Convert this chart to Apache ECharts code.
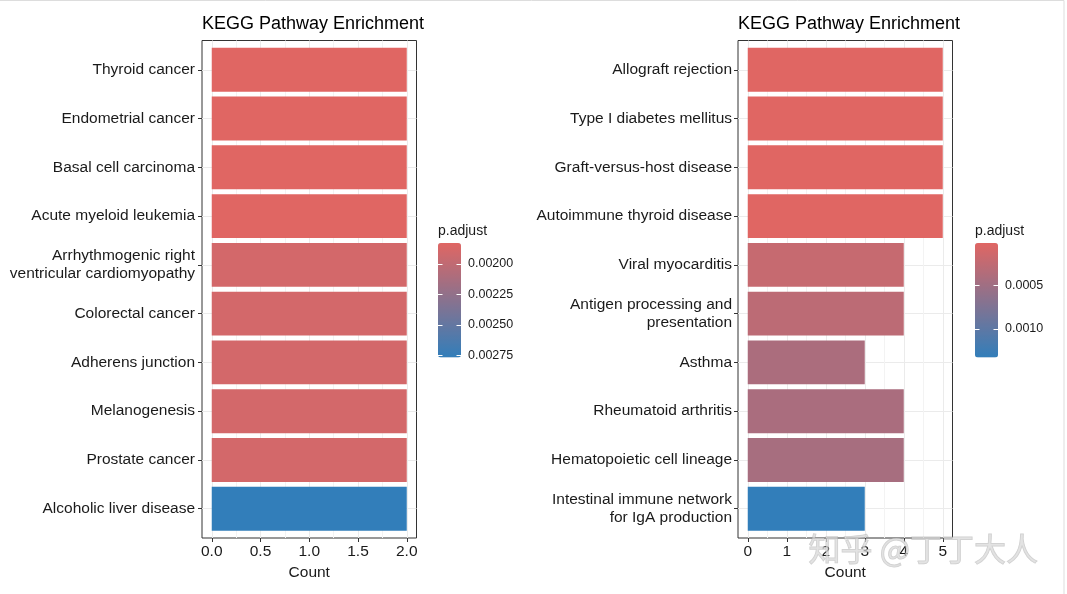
<!DOCTYPE html>
<html>
<head>
<meta charset="utf-8">
<script src="https://cdn.jsdelivr.net/npm/echarts@6/dist/echarts.min.js"></script>
<style>
  html, body { margin: 0; background: #fff; }
  #chart { width: 1067px; height: 594px; }
</style>
</head>
<body>
<div id="chart"></div>
<script>
// left panel
const leftPathways = [
  'Thyroid cancer', 'Endometrial cancer', 'Basal cell carcinoma', 'Acute myeloid leukemia',
  'Arrhythmogenic right\nventricular cardiomyopathy', 'Colorectal cancer', 'Adherens junction',
  'Melanogenesis', 'Prostate cancer', 'Alcoholic liver disease'
]
const leftCounts = [2, 2, 2, 2, 2, 2, 2, 2, 2, 2]
const leftPadj = [0.001828, 0.001828, 0.001828, 0.001828, 0.00190, 0.00190, 0.00190, 0.00190, 0.00190, 0.002766]
const leftCountTicks = [0, 0.5, 1, 1.5, 2]
const leftCountMinor = [0.25, 0.75, 1.25, 1.75]
const leftLegendTicks = [0.002, 0.00225, 0.0025, 0.00275]

// right panel
const rightPathways = [
  'Allograft rejection', 'Type I diabetes mellitus', 'Graft-versus-host disease', 'Autoimmune thyroid disease',
  'Viral myocarditis', 'Antigen processing and\npresentation', 'Asthma', 'Rheumatoid arthritis',
  'Hematopoietic cell lineage', 'Intestinal immune network\nfor IgA production'
]
const rightCounts = [5, 5, 5, 5, 4, 4, 3, 4, 4, 3]
const rightPadj = [0.000009, 0.000009, 0.000009, 0.000009, 0.00021, 0.00028, 0.00041, 0.00042, 0.00044, 0.00133]
const rightCountTicks = [0, 1, 2, 3, 4, 5]
const rightCountMinor = [0.5, 1.5, 2.5, 3.5, 4.5]
const rightLegendTicks = [0.0005, 0.001]

const LOW = '#E06663'
const HIGH = '#327EBA'
const FONT = '"Liberation Sans", Arial, sans-serif'
const INK = '#1a1a1a'

const option = {
  animation: false,
  backgroundColor: '#fff',
  textStyle: { fontFamily: FONT },
  title: [], grid: [], xAxis: [], yAxis: [], series: [], visualMap: [],
  graphic: []
}

function addPanel (p) {
  const g = option.grid.length
  const x = option.xAxis.length
  const y = option.yAxis.length
  const s = option.series.length
  const top = 40.5
  const height = 497.5
  const unit = height / 10.2
  const xMin = -0.05 * p.xMax
  const xMax = 1.05 * p.xMax
  const pMin = Math.min(...p.padj)
  const pMax = Math.max(...p.padj)
  const rows = p.names.map((n, i) => i)

  option.title.push(
    { text: 'KEGG Pathway Enrichment', left: p.left, top: 15, padding: 0,
      textStyle: { fontSize: 18, fontWeight: 'normal', color: '#000', fontFamily: FONT } },
    { text: 'p.adjust', left: p.legendLeft, top: 224, padding: 0,
      textStyle: { fontSize: 14, fontWeight: 'normal', color: INK, fontFamily: FONT } }
  )

  option.grid.push(
    // panel frame
    { left: p.left, top: top, width: 214.5, height: height, show: true,
      borderColor: '#333', borderWidth: 1, backgroundColor: 'transparent', containLabel: false },
    // bars
    { left: p.left, top: top + 0.1 * unit, width: 214.5, height: 10 * unit, containLabel: false },
    // colour bar
    { left: p.legendLeft, top: 243, width: 23, height: 114.5, containLabel: false }
  )

  option.xAxis.push(
    { type: 'value', gridIndex: g, min: xMin, max: xMax, position: 'bottom',
      name: 'Count', nameLocation: 'middle', nameGap: 26,
      nameTextStyle: { fontSize: 15.5, color: INK, fontFamily: FONT },
      axisLine: { show: false, onZero: false },
      axisTick: { show: true, length: 4, customValues: p.ticks, lineStyle: { color: '#333' } },
      axisLabel: { customValues: p.ticks, margin: 6, fontSize: 15.5, color: INK, fontFamily: FONT,
        formatter: v => p.xMax === 2 ? v.toFixed(1) : String(v) },
      splitLine: { show: true, customValues: p.ticks, lineStyle: { color: '#EBEBEB', width: 1 } } },
    { type: 'value', gridIndex: g, min: xMin, max: xMax, position: 'top',
      axisLine: { show: false, onZero: false }, axisLabel: { show: false },
      axisTick: { show: false, customValues: p.minor },
      splitLine: { show: true, customValues: p.minor, lineStyle: { color: '#F3F3F3', width: 1 } } },
    { type: 'value', gridIndex: g + 1, min: xMin, max: xMax, show: false },
    { type: 'value', gridIndex: g + 2, min: 0, max: 1, show: false }
  )

  option.yAxis.push(
    { type: 'value', gridIndex: g, inverse: true, min: -0.6, max: 9.6, position: 'left',
      axisLine: { show: false, onZero: false },
      axisTick: { show: true, length: 4, customValues: rows, lineStyle: { color: '#333' } },
      axisLabel: { customValues: rows, margin: p.labelMargin, fontSize: 15.5, padding: [4, 0, 0, 0],
        lineHeight: 18, color: INK, fontFamily: FONT, formatter: v => p.names[Math.round(v)] },
      splitLine: { show: true, customValues: rows, lineStyle: { color: '#EBEBEB', width: 1 } } },
    { type: 'category', gridIndex: g + 1, inverse: true, data: p.names, show: false },
    { type: 'value', gridIndex: g + 2, inverse: true, min: pMin, max: pMax, position: 'right', z: 10,
      axisLine: { show: false, onZero: false },
      axisTick: { show: true, inside: true, length: 4.5, customValues: p.legendTicks, lineStyle: { color: '#fff' } },
      axisLabel: { customValues: p.legendTicks, margin: 7, fontSize: 12.5, padding: [4, 0, 0, 0],
        color: INK, fontFamily: FONT, formatter: v => v.toFixed(p.legendDigits) },
      splitLine: { show: false } },
    { type: 'value', gridIndex: g + 2, inverse: true, min: pMin, max: pMax, position: 'left', z: 10,
      axisLine: { show: false, onZero: false }, axisLabel: { show: false },
      axisTick: { show: true, inside: true, length: 4.5, customValues: p.legendTicks, lineStyle: { color: '#fff' } },
      splitLine: { show: false } }
  )

  option.series.push({
    type: 'bar', xAxisIndex: x + 2, yAxisIndex: y + 1, barWidth: '90%', silent: true,
    encode: { x: 0, y: 1 },
    data: p.names.map((n, i) => [p.counts[i], n, p.padj[i]])
  })

  option.visualMap.push({
    type: 'continuous', seriesIndex: s, dimension: 2, min: pMin, max: pMax,
    inverse: true, calculable: false, hoverLink: false, padding: 0,
    left: p.legendLeft, top: 243, itemWidth: 23, itemHeight: 114.5,
    text: null, showLabel: false,
    inRange: { color: [LOW, HIGH] }
  })
}

addPanel({ names: leftPathways, counts: leftCounts, padj: leftPadj, xMax: 2,
  ticks: leftCountTicks, minor: leftCountMinor, legendTicks: leftLegendTicks, legendDigits: 5,
  left: 202, legendLeft: 438, labelMargin: 7 })
addPanel({ names: rightPathways, counts: rightCounts, padj: rightPadj, xMax: 5,
  ticks: rightCountTicks, minor: rightCountMinor, legendTicks: rightLegendTicks, legendDigits: 4,
  left: 738, legendLeft: 975, labelMargin: 6 })

option.graphic.push(
  { type: 'rect', shape: { x: -2, y: 0.5, width: 1066, height: 600 }, silent: true,
    style: { fill: 'none', stroke: '#DDDDDD', lineWidth: 1 } },
  { type: 'text', left: 808, top: 532, silent: true, z: 100,
    style: { text: '知乎 @丁丁大人', font: '32px "Noto Sans CJK SC"', fill: 'rgba(215,215,215,0.7)',
      stroke: 'rgba(150,150,150,0.45)', lineWidth: 1 } }
)

const myChart = echarts.init(document.getElementById('chart'))
myChart.setOption(option)
</script>
</body>
</html>
